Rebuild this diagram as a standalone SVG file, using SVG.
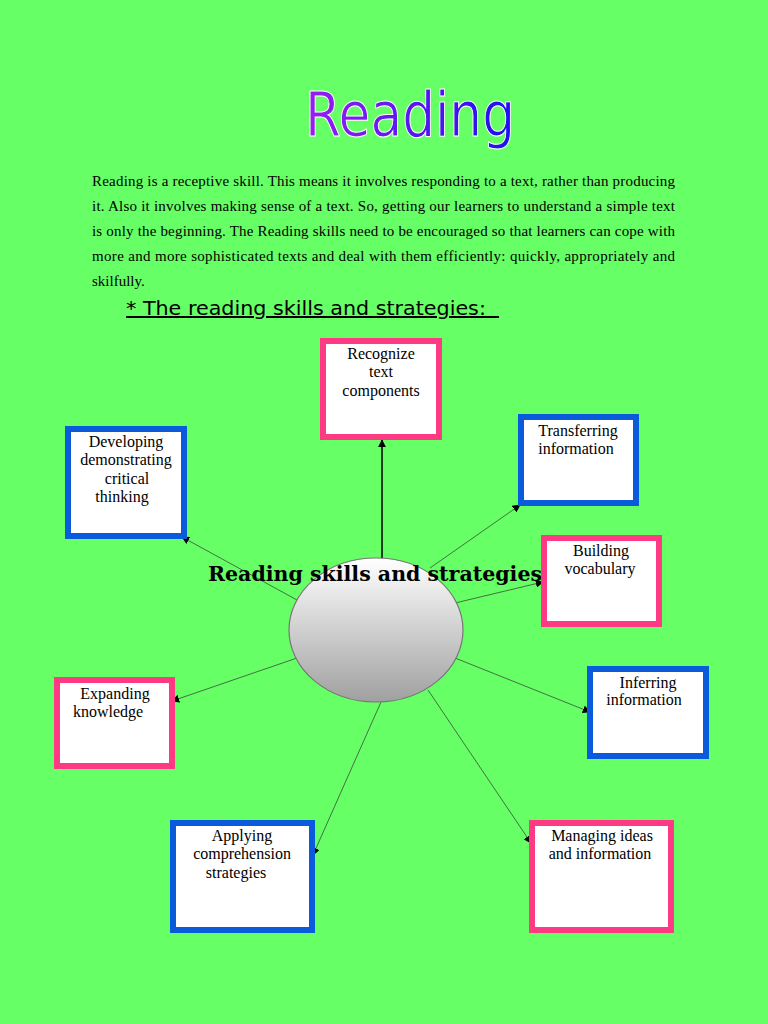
<svg xmlns="http://www.w3.org/2000/svg" width="768" height="1024" viewBox="0 0 768 1024">
<defs>
<linearGradient id="tg" x1="0" x2="1" y1="0" y2="0"><stop offset="0" stop-color="#9a1ef0"/><stop offset="1" stop-color="#1a10f0"/></linearGradient>
<linearGradient id="eg" x1="0" x2="0" y1="0" y2="1"><stop offset="0" stop-color="#ffffff"/><stop offset="1" stop-color="#a0a0a0"/></linearGradient>
<marker id="ar" viewBox="0 0 10 10" refX="9" refY="5" markerWidth="8" markerHeight="8" markerUnits="userSpaceOnUse" orient="auto"><path d="M0,0L10,5L0,10z" fill="#000"/></marker>
</defs>
<style>
.p{font-family:"Liberation Serif",serif;font-size:15px;fill:#000}
.b{font-family:"Liberation Serif",serif;font-size:16px;fill:#000}
.pk{fill:#fff;stroke:#ff3a85;stroke-width:6}
.bl{fill:#fff;stroke:#0a5adc;stroke-width:6}
.c{stroke:#333;stroke-width:0.7;fill:none;marker-end:url(#ar)}
</style>
<rect width="768" height="1024" fill="#66ff66"/>
<text x="305" y="136" font-family="DejaVu Sans,sans-serif" font-size="62" fill="url(#tg)" stroke="#fff" stroke-width="1" textLength="210" lengthAdjust="spacingAndGlyphs">Reading</text>
<g class="p">
<text x="92" y="186" textLength="583" lengthAdjust="spacing">Reading is a receptive skill. This means it involves responding to a text, rather than producing</text>
<text x="92" y="211" textLength="583" lengthAdjust="spacing">it. Also it involves making sense of a text. So, getting our learners to understand a simple text</text>
<text x="92" y="236" textLength="583" lengthAdjust="spacing">is only the beginning. The Reading skills need to be encouraged so that learners can cope with</text>
<text x="92" y="261" textLength="583" lengthAdjust="spacing">more and more sophisticated texts and deal with them efficiently: quickly, appropriately and</text>
<text x="92" y="286">skilfully.</text>
</g>
<text x="126" y="315" font-family="DejaVu Sans,sans-serif" font-size="20" text-decoration="underline" xml:space="preserve" textLength="373" lengthAdjust="spacingAndGlyphs">* The reading skills and strategies:  </text>
<g id="connectors">
<line x1="382" y1="560" x2="382" y2="440" stroke="#000" stroke-width="1.5" marker-end="url(#ar)"/>
<line class="c" x1="430" y1="568" x2="520" y2="505"/>
<line class="c" x1="455" y1="603" x2="543" y2="582"/>
<line class="c" x1="455" y1="658" x2="590" y2="712"/>
<line class="c" x1="428" y1="690" x2="531" y2="843"/>
<line class="c" x1="381" y1="702" x2="313" y2="855"/>
<line class="c" x1="297" y1="658" x2="172" y2="701"/>
<line class="c" x1="297" y1="600" x2="182" y2="537"/>
</g>
<g id="center">
<ellipse cx="376" cy="630" rx="87" ry="72" fill="url(#eg)" stroke="#777" stroke-width="1.2"/>
<text x="208" y="581" font-family="DejaVu Serif,serif" font-weight="bold" font-size="20" textLength="334" lengthAdjust="spacingAndGlyphs">Reading skills and strategies</text>
</g>
<g id="n1"><rect class="pk" x="323" y="341" width="116" height="96"/><text class="b" text-anchor="middle" x="381" y="359">Recognize</text><text class="b" text-anchor="middle" x="381" y="377">text</text><text class="b" text-anchor="middle" x="381" y="396">components</text></g>
<g id="n2"><rect class="bl" x="521" y="417" width="115" height="86"/><text class="b" text-anchor="middle" x="578" y="436">Transferring</text><text class="b" text-anchor="middle" x="576" y="454">information</text></g>
<g id="n3"><rect class="pk" x="544" y="538" width="115" height="86"/><text class="b" text-anchor="middle" x="601" y="556">Building</text><text class="b" text-anchor="middle" x="600" y="574">vocabulary</text></g>
<g id="n4"><rect class="bl" x="590" y="669" width="116" height="87"/><text class="b" text-anchor="middle" x="648" y="688">Inferring</text><text class="b" text-anchor="middle" x="644" y="705">information</text></g>
<g id="n5"><rect class="pk" x="532" y="823" width="139" height="107"/><text class="b" text-anchor="middle" x="602" y="841">Managing ideas</text><text class="b" text-anchor="middle" x="600" y="859">and information</text></g>
<g id="n6"><rect class="bl" x="173" y="823" width="139" height="107"/><text class="b" text-anchor="middle" x="242" y="841">Applying</text><text class="b" text-anchor="middle" x="242" y="859">comprehension</text><text class="b" text-anchor="middle" x="236" y="878">strategies</text></g>
<g id="n7"><rect class="pk" x="57" y="680" width="115" height="86"/><text class="b" text-anchor="middle" x="115" y="699">Expanding</text><text class="b" text-anchor="middle" x="108" y="717">knowledge</text></g>
<g id="n8"><rect class="bl" x="68" y="429" width="116" height="107"/><text class="b" text-anchor="middle" x="126" y="447">Developing</text><text class="b" text-anchor="middle" x="126" y="465">demonstrating</text><text class="b" text-anchor="middle" x="127" y="484">critical</text><text class="b" text-anchor="middle" x="122" y="502">thinking</text></g>
</svg>
